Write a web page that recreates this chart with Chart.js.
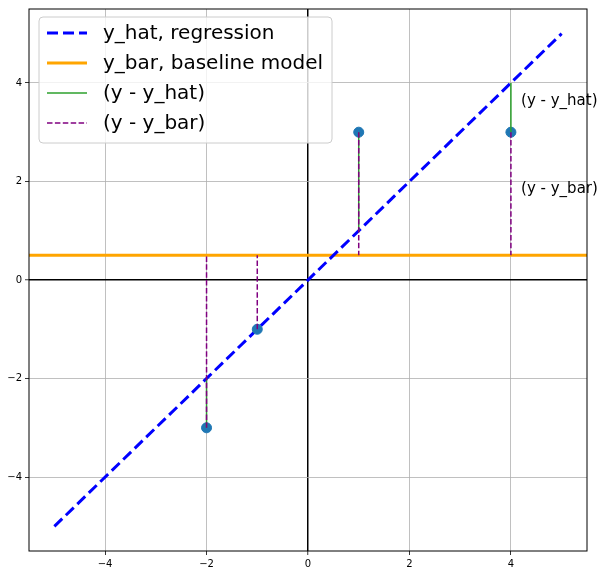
<!DOCTYPE html>
<html>
<head>
<meta charset="utf-8">
<script src="https://cdn.jsdelivr.net/npm/chart.js@4.4.1/dist/chart.umd.min.js"></script>
<style>
  html, body { margin: 0; padding: 0; background: #fff; }
  #wrap { width: 604px; height: 575px; }
</style>
</head>
<body>
<div id="wrap"><canvas id="chart"></canvas></div>
<script>
// observed points
const xs = [-2, -1, 1, 4];
const ys = [-3, -1, 3, 3];
// regression predictions at xs
const yHat = [-2, -1, 1, 4];
// regression line ends
const lineX = [-5, 5];
const lineY = [-5, 5];
// baseline (mean of ys)
const yBar = 0.5;
const tickVals = [-4, -2, 0, 2, 4];
const legendLabels = ['y_hat, regression', 'y_bar, baseline model', '(y - y_hat)', '(y - y_bar)'];
const noteLabels = ['(y - y_hat)', '(y - y_bar)'];
const noteX = [4.2, 4.2];
const noteY = [3.55, 1.77];

const FONT = '"DejaVu Sans", sans-serif';

// segments separated by null gaps
function segments(from, to) {
    const pts = [];
    xs.forEach((x, i) => {
        pts.push({ x: x, y: from[i] }, { x: x, y: to[i] }, { x: x, y: null });
    });
    return pts;
}

const fullTicks = scale => {
    scale.ticks = tickVals.map(v => ({ value: v }));
};

const gridColor = ctx => (ctx.tick && ctx.tick.value === 0) ? '#000' : '#b0b0b0';
const gridWidth = ctx => (ctx.tick && ctx.tick.value === 0) ? 1.5 : 0.8;

// frame, legend and notes
const extras = {
    id: 'extras',
    afterDraw(chart) {
        const { ctx, chartArea: a, scales: { x, y } } = chart;
        ctx.save();
        ctx.strokeStyle = '#000';
        ctx.lineWidth = 1;
        ctx.strokeRect(a.left, a.top, a.right - a.left, a.bottom - a.top);

        // notes
        ctx.fillStyle = '#000';
        ctx.font = '15px ' + FONT;
        ctx.textBaseline = 'alphabetic';
        noteLabels.forEach((t, i) => {
            ctx.fillText(t, x.getPixelForValue(noteX[i]), y.getPixelForValue(noteY[i]));
        });

        // legend
        const bx = 39, by = 17, bw = 293, bh = 126, r = 4;
        ctx.beginPath();
        ctx.roundRect(bx, by, bw, bh, r);
        ctx.fillStyle = 'rgba(255,255,255,0.8)';
        ctx.fill();
        ctx.strokeStyle = '#cccccc';
        ctx.lineWidth = 1;
        ctx.stroke();

        const styles = [
            { color: 'blue', width: 3, dash: [11, 5] },
            { color: 'orange', width: 3, dash: [] },
            { color: '#2ca02c', width: 1.5, dash: [] },
            { color: 'purple', width: 1.5, dash: [5.5, 2.4] }
        ];
        ctx.font = '20px ' + FONT;
        ctx.textBaseline = 'middle';
        legendLabels.forEach((t, i) => {
            const ry = 33 + i * 30;
            const s = styles[i];
            ctx.beginPath();
            ctx.setLineDash(s.dash);
            ctx.strokeStyle = s.color;
            ctx.lineWidth = s.width;
            ctx.moveTo(47, ry);
            ctx.lineTo(87, ry);
            ctx.stroke();
            ctx.setLineDash([]);
            ctx.fillStyle = '#000';
            ctx.fillText(t, 103, ry + 1);
        });
        ctx.restore();
    }
};

new Chart(document.getElementById('chart'), {
    type: 'scatter',
    data: {
        datasets: [
            {
                label: legendLabels[3],
                data: segments(ys, ys.map(() => yBar)),
                showLine: true,
                borderColor: 'purple',
                borderWidth: 1.5,
                borderDash: [5.5, 2.4],
                pointRadius: 0,
                spanGaps: false,
                order: 1
            },
            {
                label: legendLabels[2],
                data: segments(ys, yHat),
                showLine: true,
                borderColor: '#2ca02c',
                borderWidth: 1.5,
                pointRadius: 0,
                spanGaps: false,
                order: 2
            },
            {
                label: 'y',
                data: xs.map((x, i) => ({ x: x, y: ys[i] })),
                backgroundColor: '#1f77b4',
                borderColor: '#1f77b4',
                pointRadius: 5,
                order: 3
            },
            {
                label: legendLabels[0],
                data: lineX.map((x, i) => ({ x: x, y: lineY[i] })),
                showLine: true,
                borderColor: 'blue',
                borderWidth: 3,
                borderDash: [11, 5],
                pointRadius: 0,
                order: 4
            },
            {
                label: legendLabels[1],
                data: [{ x: -5.5, y: yBar }, { x: 5.5, y: yBar }],
                showLine: true,
                borderColor: 'orange',
                borderWidth: 3,
                pointRadius: 0,
                order: 5
            }
        ]
    },
    options: {
        responsive: true,
        maintainAspectRatio: false,
        animation: false,
        layout: { padding: { top: 8, right: 17, left: 0, bottom: 0 } },
        plugins: {
            legend: { display: false },
            tooltip: { enabled: false }
        },
        scales: {
            x: {
                type: 'linear',
                min: -5.5,
                max: 5.5,
                afterBuildTicks: fullTicks,
                afterFit: s => { s.height = 24; },
                grid: { color: gridColor, lineWidth: gridWidth, tickColor: '#000', tickLength: 4, tickWidth: 0.8 },
                border: { display: false },
                ticks: {
                    color: '#000',
                    font: { family: FONT, size: 10 },
                    padding: 3,
                    maxRotation: 0,
                    callback: v => String(v).replace('-', '\u2212')
                }
            },
            y: {
                type: 'linear',
                min: -5.5,
                max: 5.5,
                afterBuildTicks: fullTicks,
                afterFit: s => { s.width = 29; },
                grid: { color: gridColor, lineWidth: gridWidth, tickColor: '#000', tickLength: 4, tickWidth: 0.8 },
                border: { display: false },
                ticks: {
                    color: '#000',
                    font: { family: FONT, size: 10 },
                    padding: 3,
                    callback: v => String(v).replace('-', '\u2212')
                }
            }
        }
    },
    plugins: [extras]
});
</script>
</body>
</html>
